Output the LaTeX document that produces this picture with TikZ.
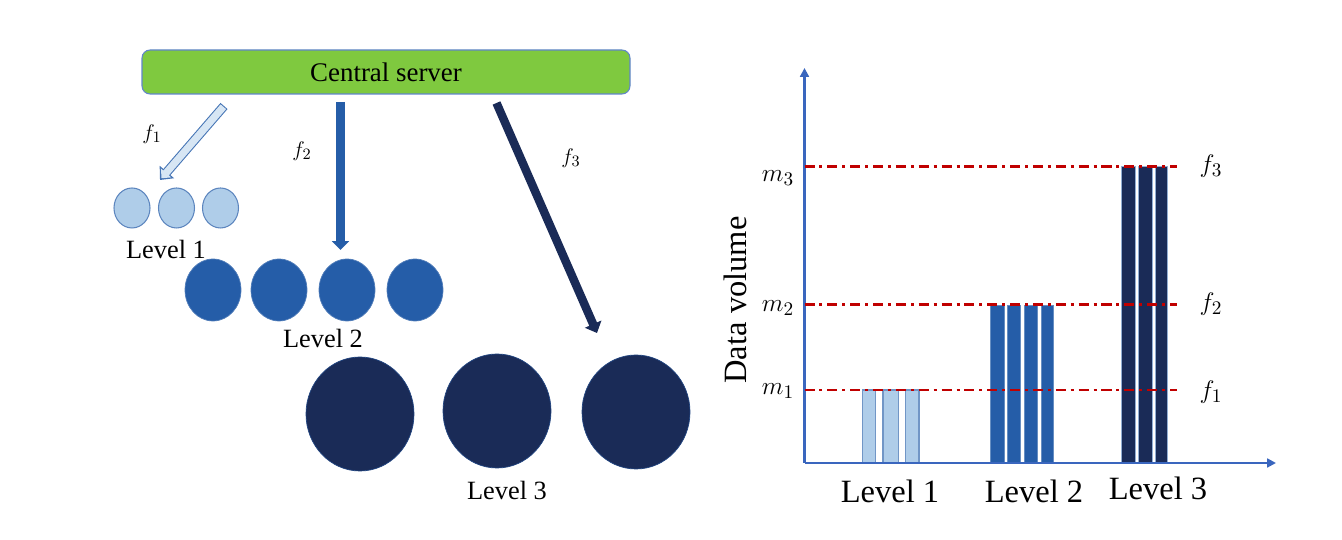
\documentclass[tikz,border=0pt]{standalone}
\usepackage{fontspec}
\setmainfont{Liberation Serif}
\usetikzlibrary{shapes.geometric,arrows.meta}
\definecolor{servergreen}{HTML}{7FC93F}
\definecolor{lightlevel}{HTML}{AFCDE9}
\definecolor{midlevel}{HTML}{255DA8}
\definecolor{darklevel}{HTML}{1A2B57}
\definecolor{axisblue}{HTML}{3A66BE}
\definecolor{guidered}{HTML}{C00000}
\tikzset{
  labelsmall/.style={font=\fontsize{15}{18}\selectfont,inner sep=0pt},
  labelbig/.style={font=\fontsize{18.5}{22}\selectfont,inner sep=0pt},
  mathsmall/.style={font=\fontsize{12.5}{15}\selectfont,inner sep=0pt},
  mathbig/.style={font=\fontsize{15.5}{18}\selectfont,inner sep=0pt},
  circleone/.style={ellipse,draw=midlevel!75,line width=0.6pt,fill=lightlevel,minimum width=0.72cm,minimum height=0.8cm,inner sep=0pt},
  circletwo/.style={ellipse,draw=midlevel!80,line width=0.4pt,fill=midlevel,minimum width=1.12cm,minimum height=1.24cm,inner sep=0pt},
  circlethree/.style={ellipse,draw=midlevel!50!darklevel,line width=0.4pt,fill=darklevel,minimum width=2.16cm,minimum height=2.28cm,inner sep=0pt},
  barone/.style={draw=midlevel!65,line width=0.7pt,fill=lightlevel},
  bartwo/.style={draw=midlevel!70,line width=0.4pt,fill=midlevel},
  barthree/.style={draw=midlevel!50,line width=0.4pt,fill=darklevel},
  guide/.style={guidered,line width=1.2pt,dash pattern=on 5.7pt off 2.8pt on 1.7pt off 2.8pt},
  axis/.style={axisblue,line width=1.2pt,-{Triangle[length=5pt,width=5pt]}}
}
\begin{document}
\begin{tikzpicture}
  \useasboundingbox (0,0) rectangle (26.84,10.8);
  % left side
  \node[draw=axisblue!80,line width=0.6pt,fill=servergreen,rounded corners=0.16cm,minimum width=9.76cm,minimum height=0.88cm,font=\fontsize{15.3}{18}\selectfont] (server) at (7.72,9.36) {Central server};
  \foreach \x/\n in {2.64/a,3.53/b,4.41/c} \node[circleone] (one\n) at (\x,6.64) {};
  \foreach \x/\n in {4.26/a,5.58/b,6.94/c,8.3/d} \node[circletwo] (two\n) at (\x,5) {};
  \node[circlethree] (threea) at (7.2,2.52) {};
  \node[circlethree] (threeb) at (9.94,2.58) {};
  \node[circlethree] (threec) at (12.72,2.56) {};
  \node[labelsmall] (levelone) at (3.32,5.82) {Level 1};
  \node[labelsmall] (leveltwo) at (6.46,4.04) {Level 2};
  \node[labelsmall] (levelthree) at (10.14,1) {Level 3};
  \node[mathsmall] (fone) at (3.04,8.12) {$f_1$};
  \node[mathsmall] (ftwo) at (6.04,7.78) {$f_2$};
  \node[mathsmall] (fthree) at (11.42,7.64) {$f_3$};
  \coordinate (sendone) at (4.48,8.68);
  \coordinate (getone) at (3.2,7.2);
  \coordinate (sendtwo) at (6.81,8.76);
  \coordinate (gettwo) at (6.81,5.8);
  \coordinate (sendthree) at (9.93,8.74);
  \coordinate (getthree) at (11.94,4.14);
  \draw[line width=5.3pt,midlevel!85,-{Triangle[length=6pt,width=10.5pt]}] (sendone)--(getone);
  \draw[line width=4.1pt,lightlevel!50!white,shorten <=0.6pt,shorten >=1.3pt,-{Triangle[length=4pt,width=7.5pt]}] (sendone)--(getone);
  \draw[line width=4.6pt,midlevel,-{Triangle[length=5pt,width=9.5pt]}] (sendtwo)--(gettwo);
  \draw[line width=4.8pt,darklevel,-{Triangle[length=5.5pt,width=10pt]}] (sendthree)--(getthree);
  % right side
  \coordinate (origin) at (16.09,1.54);
  \coordinate (ytop) at (16.09,9.44);
  \coordinate (xend) at (25.52,1.54);
  \foreach \a/\b in {17.25/17.51,17.66/17.97,18.11/18.38} \draw[barone] (\a,1.54) rectangle (\b,3);
  \foreach \a/\b in {19.81/20.09,20.15/20.4,20.48/20.75,20.83/21.07} \draw[bartwo] (\a,1.54) rectangle (\b,4.69);
  \foreach \a/\b in {22.43/22.71,22.77/23.05,23.11/23.34} \draw[barthree] (\a,1.54) rectangle (\b,7.47);
  \draw[axis] (origin)--(ytop);
  \draw[axis] (origin)--(xend);
  \node[mathbig] (mone) at (15.56,2.98) {$m_1$};
  \node[mathbig] (mtwo) at (15.56,4.64) {$m_2$};
  \node[mathbig] (mthree) at (15.56,7.24) {$m_3$};
  \node[mathbig] (rone) at (24.22,2.96) {$f_1$};
  \node[mathbig] (rtwo) at (24.22,4.72) {$f_2$};
  \node[mathbig] (rthree) at (24.22,7.48) {$f_3$};
  \foreach \y/\n in {3/one,4.71/two,7.47/three} {
    \coordinate (gl\n) at (16.09,\y);
    \coordinate (gr\n) at (23.54,\y);
    \draw[guide] (gl\n)--(gr\n);
  }
  \node[labelbig] (barone) at (17.8,0.98) {Level 1};
  \node[labelbig] (bartwo) at (20.68,0.98) {Level 2};
  \node[labelbig] (barthree) at (23.16,1.04) {Level 3};
  \node[labelbig,rotate=90] (ylabel) at (14.7,4.8) {Data volume};
\end{tikzpicture}
\end{document}
